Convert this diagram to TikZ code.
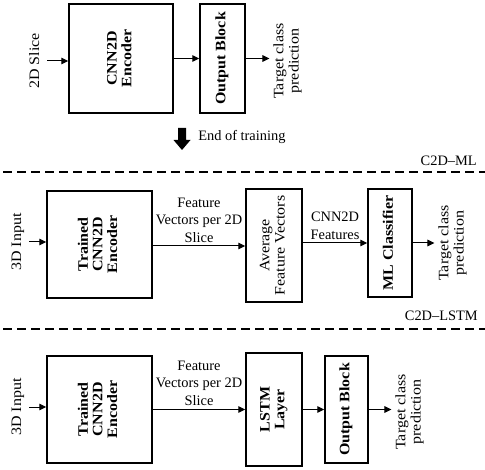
\documentclass[tikz,border=0pt]{standalone}
\usepackage{fontspec}
\setmainfont{Liberation Serif}
\usepackage{graphicx}
\usetikzlibrary{arrows.meta}
\newcommand{\vtxt}[1]{\rotatebox{90}{\scalebox{1.11}[1]{\begin{tabular}{@{}c@{}}#1\end{tabular}}}}
\begin{document}
\begin{tikzpicture}[x=0.75pt,y=0.75pt,yscale=-1,xscale=1,
  blk/.style={draw, line width=1.1pt, inner sep=0pt, font=\fontsize{10.8}{11}\selectfont\bfseries},
  txt/.style={inner sep=2.5pt, font=\fontsize{10.8}{11.3}\selectfont},
  lbl/.style={inner sep=0.75pt, align=center, font=\fontsize{10.8}{13.1}\selectfont},
  arr/.style={line width=0.75pt, -{Triangle[length=5.25pt,width=5pt]}},
  sep/.style={line width=1.7pt, dash pattern=on 6.75pt off 3.75pt}]
\useasboundingbox (0,0) rectangle (485,470);

%Top: training of the encoder
\node [txt] (slice) at (36,61) {\vtxt{2D Slice}};
\node [blk, minimum width=78pt, minimum height=81.75pt] (enc1) at (121,58.5) {\vtxt{CNN2D\\Encoder}};
\node [blk, minimum width=33.75pt, minimum height=81.75pt] (out1) at (222.5,58.5) {\vtxt{Output Block}};
\node [txt] (pred1) at (288,61) {\vtxt{Target class\\prediction}};
\draw [arr] (slice.east) -- (slice.east -| enc1.west);
\draw [arr] (enc1.east) -- (out1.west);
\draw [arr] (out1.east) -- (out1.east -| pred1.west);

%Shape: thick arrow
\fill (178,128) -- (186,128) -- (186,140) -- (190.5,140) -- (182,150) -- (173.5,140) -- (178,140) -- cycle;
% Text Node
\node [lbl, anchor=base west] (eot) at (197,141) {End of training};

%Dashed separators
\draw [sep] (3,172) -- (485,172);
\node [lbl, anchor=base east] (ml) at (478,166) {C2D--ML};
\draw [sep] (3,329) -- (485,329);
\node [lbl, anchor=base east] (lstmtag) at (479,320) {C2D--LSTM};

%Middle: C2D-ML
\node [txt] (in2) at (18,242) {\vtxt{3D Input}};
\node [blk, minimum width=78.75pt, minimum height=80.25pt] (enc2) at (99.5,244.5) {\vtxt{Trained\\CNN2D\\Encoder}};
\node [blk, font=\fontsize{10.8}{11.3}\selectfont, minimum width=42pt, minimum height=84.75pt] (avg) at (274,245.5) {\vtxt{Average\\Feature Vectors}};
\node [blk, minimum width=33pt, minimum height=81pt] (mlc) at (390,243) {\vtxt{ML Classifier}};
\node [txt] (pred2) at (453,243) {\vtxt{Target class\\prediction}};
\node [lbl] (fv2) at (199,220) {Feature\\Vectors per 2D\\Slice};
\node [lbl] (cf) at (335,226) {CNN2D\\Features};
\draw [arr] (in2.east) -- (in2.east -| enc2.west);
\draw [arr] (enc2.east) ++(0,1.5) -- (avg.west |- 0,246);
\draw [arr] (avg.east) ++(0,-2.5) -- (mlc.west);
\draw [arr] (mlc.east) -- (mlc.east -| pred2.west);

%Bottom: C2D-LSTM
\node [txt] (in3) at (18,407) {\vtxt{3D Input}};
\node [blk, minimum width=78.75pt, minimum height=80.25pt] (enc3) at (99.5,409.5) {\vtxt{Trained\\CNN2D\\Encoder}};
\node [blk, minimum width=42pt, minimum height=84.75pt] (lstm) at (274,409.5) {\vtxt{LSTM\\Layer}};
\node [blk, minimum width=32.25pt, minimum height=80.25pt] (out3) at (346.5,409.5) {\vtxt{Output Block}};
\node [txt] (pred3) at (410,412) {\vtxt{Target class\\prediction}};
\node [lbl] (fv3) at (199,383) {Feature\\Vectors per 2D\\Slice};
\draw [arr] (in3.east) -- (in3.east -| enc3.west);
\draw [arr] (enc3.east) -- (lstm.west);
\draw [arr] (lstm.east) -- (out3.west);
\draw [arr] (out3.east) -- (out3.east -| pred3.west);
\end{tikzpicture}
\end{document}
